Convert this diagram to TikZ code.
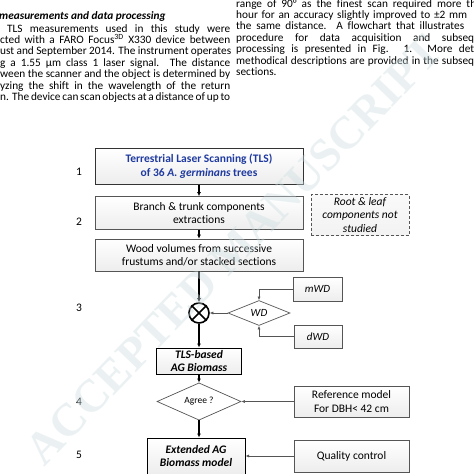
\documentclass[tikz,border=0pt]{standalone}
\usepackage{fontspec}
\setmainfont{Carlito}[Ligatures=NoCommon]
\newfontfamily\wmfont{Liberation Serif}
\usetikzlibrary{arrows.meta,shapes.geometric}
\definecolor{tlsblue}{RGB}{31,58,160}
\definecolor{wmcol}{RGB}{205,222,224}
\definecolor{boxline}{RGB}{85,85,85}
\begin{document}
\begin{tikzpicture}[x=1pt,y=-1pt,
  ptext/.style={anchor=base west, inner sep=0, font=\fontsize{11.3}{12}\selectfont},
  flowbox/.style={draw=boxline, line width=0.7pt, top color=white, bottom color=gray!14, align=center, inner sep=1pt, font=\fontsize{11.5}{13.5}\selectfont},
  strongbox/.style={flowbox, draw=black, line width=1pt, font=\fontsize{11.5}{13.5}\selectfont\bfseries\itshape},
  flowdiam/.style={diamond, draw=boxline, line width=0.7pt, fill=white, inner sep=0, align=center},
  mainarrow/.style={line width=1.3pt, -{Latex[length=4pt,width=4pt]}},
  sidearrow/.style={draw=boxline, line width=0.6pt, -{Latex[length=3.5pt,width=3pt]}},
  steplabel/.style={font=\fontsize{11.5}{13}\selectfont, inner sep=0}
]
\useasboundingbox (0,0) rectangle (474,474);
\clip (0,0) rectangle (474,474);
\fill[white] (0,0) rectangle (474,474);

% ---------- paragraph text (left column)
\node[ptext] (l0) at (-1,19) {\bfseries\itshape measurements and data processing};
\node[ptext] (l1) at (7,32) {\makebox[223pt][s]{TLS measurements used in this study were}};
\node[ptext] (l2) at (0,43.4) {\makebox[230pt][s]{cted with a FARO Focus\textsuperscript{3D} X330 device between}};
\node[ptext] (l3) at (0,54.8) {\makebox[231pt][s]{ust and September 2014. The instrument operates}};
\node[ptext] (l4) at (0,66.2) {\makebox[230pt][s]{g a 1.55 µm class 1 laser signal. The distance}};
\node[ptext] (l5) at (0,77.6) {\makebox[230pt][s]{ween the scanner and the object is determined by}};
\node[ptext] (l6) at (0,89) {\makebox[230pt][s]{yzing the shift in the wavelength of the return}};
\node[ptext] (l7) at (0,100.4) {\makebox[230pt][s]{n. The device can scan objects at a distance of up to}};

% ---------- paragraph text (right column)
\node[ptext] (r0) at (236,7) {\makebox[240pt][s]{range of 90° as the finest scan required more th}};
\node[ptext] (r1) at (236,18.4) {\makebox[231pt][s]{hour for an accuracy slightly improved to ±2 mm}};
\node[ptext] (r2) at (236,29.8) {\makebox[228pt][s]{the same distance. A flowchart that illustrates}};
\node[ptext] (r3) at (236,41.2) {\makebox[238pt][s]{procedure for data acquisition and subseq}};
\node[ptext] (r4) at (236,52.6) {\makebox[238pt][s]{processing is presented in Fig. 1. More det}};
\node[ptext] (r5) at (236,64) {\makebox[238pt][s]{methodical descriptions are provided in the subseq}};
\node[ptext] (r6) at (236,75.4) {sections.};

% ---------- step numbers
\node[steplabel] (s1) at (79,172) {1};
\node[steplabel] (s2) at (79,222) {2};
\node[steplabel] (s3) at (79,308) {3};
\node[steplabel] (s4) at (79,402) {4};
\node[steplabel] (s5) at (79,455) {5};

% ---------- flow boxes
\node[flowbox, draw=black!80, minimum width=208, minimum height=36, font=\fontsize{11.5}{14}\selectfont\bfseries, text=tlsblue] (tls) at (199,166.5)
  {Terrestrial Laser Scanning (TLS)\\of 36 \textit{A. germinans} trees};
\node[flowbox, minimum width=208, minimum height=33] (branch) at (199,213)
  {Branch \& trunk components\\extractions};
\node[flowbox, minimum width=208, minimum height=32] (wood) at (199,255)
  {Wood volumes from successive\\frustums and/or stacked sections};
\node[flowbox, draw=boxline, densely dashed, top color=gray!4, bottom color=gray!10, minimum width=98, minimum height=41, font=\fontsize{11.5}{13.5}\selectfont\itshape] (root) at (360,215)
  {Root \& leaf\\components not\\studied};

\node[circle, draw=black, line width=1.6pt, minimum size=20, inner sep=0, fill=white] (circ) at (199,313) {};
\draw[line width=1.6pt] (circ.north west) -- (circ.south east);
\draw[line width=1.6pt] (circ.north east) -- (circ.south west);

\node[flowdiam, minimum width=62, minimum height=25, font=\fontsize{11}{13}\selectfont\itshape] (wd) at (259,313) {WD};
\node[flowbox, minimum width=49, minimum height=24, font=\fontsize{11}{13}\selectfont\itshape] (mwd) at (317.5,289) {mWD};
\node[flowbox, minimum width=48, minimum height=23, font=\fontsize{11}{13}\selectfont\itshape] (dwd) at (318,336.5) {dWD};

\node[strongbox, minimum width=85, minimum height=26] (tlsb) at (199,361) {TLS-based\\AG Biomass};
\node[flowdiam, minimum width=84, minimum height=34, font=\fontsize{9.5}{11}\selectfont] (agree) at (199,401.5) {Agree ?};
\node[flowbox, minimum width=115, minimum height=31] (ref) at (351.5,401.5) {Reference model\\For DBH< 42 cm};
\node[strongbox, minimum width=98, minimum height=36] (ext) at (196,456) {Extended AG\\Biomass model};
\node[flowbox, minimum width=115, minimum height=32] (qc) at (351.5,456) {Quality control};

% ---------- connectors
\draw[mainarrow, line width=1.1pt] (tls) -- (branch);
\draw[mainarrow, line width=1.1pt] (branch) -- (wood);
\draw[mainarrow] (wood) -- (circ);
\draw[mainarrow] (circ) -- (tlsb);
\draw[mainarrow, line width=1.1pt] (tlsb) -- (agree);
\draw[mainarrow] (agree.south) -- (agree.south |- ext.north);
\draw[sidearrow] (mwd.west) -| (wd.north);
\draw[sidearrow] (dwd.west) -| (wd.south);
\draw[sidearrow] (wd.west) -- (circ.east);
\draw[sidearrow] (ref.west) -- (agree.east);
\draw[sidearrow, line width=0.8pt] (qc.west) -- (ext.east);

% ---------- watermark
\node[rotate=46, font=\wmfont\bfseries\fontsize{46}{46}\selectfont, text=wmcol, text opacity=0.4, inner sep=0] (wm) at (234,250) {ACCEPTED MANUSCRIPT};
\end{tikzpicture}
\end{document}
